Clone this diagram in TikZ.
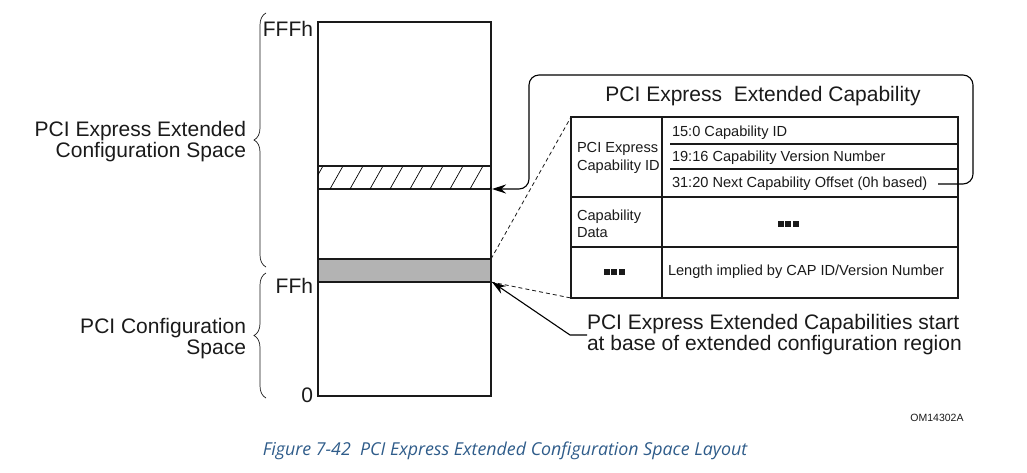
\documentclass[tikz,border=0pt]{standalone}
\usepackage{fontspec}
\setmainfont{Liberation Sans}
\newfontfamily\capfont{Open Sans}
\usetikzlibrary{positioning,arrows.meta,calc,decorations.pathreplacing}
\definecolor{capblue}{HTML}{2F5C8A}
\definecolor{bandgray}{HTML}{B3B3B3}
\definecolor{inkdark}{HTML}{1A1A1A}

\begin{document}
\begin{tikzpicture}[x=1pt, y=-1pt, >={Stealth[length=14pt,width=9pt]},
    every node/.style={inner sep=0pt, outer sep=0pt, text=inkdark},
    region/.style={draw=inkdark, line width=1.8pt, minimum width=173pt},
    bigtext/.style={font=\fontsize{21}{21}\selectfont},
    tabtext/.style={font=\fontsize{14.6}{17.5}\selectfont, align=left, anchor=west},
    tabline/.style={draw=inkdark, line width=1.1pt},
    brc/.style={draw=inkdark, line width=0.7pt, decorate, decoration={brace, amplitude=12pt}},
    guide/.style={draw=inkdark, line width=0.8pt, dash pattern=on 4pt off 3pt}]
  \useasboundingbox (0,0) rectangle (1027,472);
  % memory column
  \node[region, minimum height=374pt] (cfgspace) at (404.5,209) {};
  \node[region, fill=bandgray, minimum height=23pt] (capbase) at (404.5,270.5) {};
  \node[region, minimum height=23pt] (extcap) at (404.5,177.5) {};
  \begin{scope}
    \clip (318,167) rectangle (491,188);
    \foreach \i in {0,...,9}{
      \draw[line width=0.7pt] (310+\i*20,189) -- ++(13,-23);
    }
  \end{scope}
  % offsets
  \node[bigtext, anchor=east] (fffh) at (313,29) {FFFh};
  \node[bigtext, anchor=east] (ffh) at (313,286) {FFh};
  \node[bigtext, anchor=east] (zero) at (313,395) {0};
  % braces
  \draw[brc] (266,267) -- (266,13);
  \draw[brc] (266,398) -- (266,273);
  \node[bigtext, anchor=east, align=right] (extlbl) at (246,142) {PCI Express Extended\\Configuration Space};
  \node[bigtext, anchor=east, align=right] (cfglbl) at (246,339) {PCI Configuration\\Space};
  % capability structure
  \node[font=\fontsize{21}{24}\selectfont] (captitle) at (763,96) {PCI Express\ \ Extended Capability};
  \node[tabline, minimum width=387pt, minimum height=181pt] (captab) at (764.5,207.5) {};
  \draw[tabline] ($(captab.north west)+(91,0)$) -- ($(captab.south west)+(91,0)$);
  \draw[tabline] ($(captab.north west)+(0,80)$) -- ($(captab.north east)+(0,80)$);
  \draw[tabline] ($(captab.north west)+(0,130)$) -- ($(captab.north east)+(0,130)$);
  \draw[tabline] ($(captab.north west)+(99,27)$) -- ($(captab.north east)+(0,27)$);
  \draw[tabline] ($(captab.north west)+(99,52)$) -- ($(captab.north east)+(0,52)$);
  \node[tabtext] (capid) at (672,133) {15:0 Capability ID};
  \node[tabtext] (capver) at (672,158) {19:16 Capability Version Number};
  \node[tabtext] (capnext) at (672,184) {31:20 Next Capability Offset (0h based)};
  \node[tabtext] (idlbl) at (577,158) {PCI Express\\Capability ID};
  \node[tabtext] (datalbl) at (577,224) {Capability\\Data};
  \node (datadots) at (788,224) {\rule{6pt}{6pt}\hspace{1.5pt}\rule{6pt}{6pt}\hspace{1.5pt}\rule{6pt}{6pt}};
  \node (moredots) at (614,272) {\rule{6pt}{6pt}\hspace{1.5pt}\rule{6pt}{6pt}\hspace{1.5pt}\rule{6pt}{6pt}};
  \node[tabtext] (lenlbl) at (668,272) {Length implied by CAP ID/Version Number};
  % connectors
  \coordinate (nxtend) at (938,184);
  \draw[->, line width=1.1pt, rounded corners=10pt] (nxtend) -- (973,184) -- (973,75) -- (529,75) -- (529,189) -- ($(extcap.south east)+(1,0)$);
  \draw[guide] (capbase.north east) -- (captab.north west);
  \draw[guide] (capbase.south east) -- (captab.south west);
  \node[bigtext, anchor=west, align=left] (startnote) at (587,335) {PCI Express Extended Capabilities start\\at base of extended configuration region};
  \coordinate (notefoot) at (570,335);
  \draw[->, line width=1.1pt] (startnote.west) -- (notefoot) -- ($(capbase.south east)+(1,0)$);
  % figure id and caption
  \node[font=\fontsize{10.5}{12}\selectfont] (figid) at (937,418) {OM14302A};
  \node[font=\capfont\itshape\fontsize{17.8}{20}\selectfont, text=capblue] (caption) at (505,451) {Figure\ 7-42\ \ PCI Express Extended Configuration Space Layout};
\end{tikzpicture}
\end{document}
